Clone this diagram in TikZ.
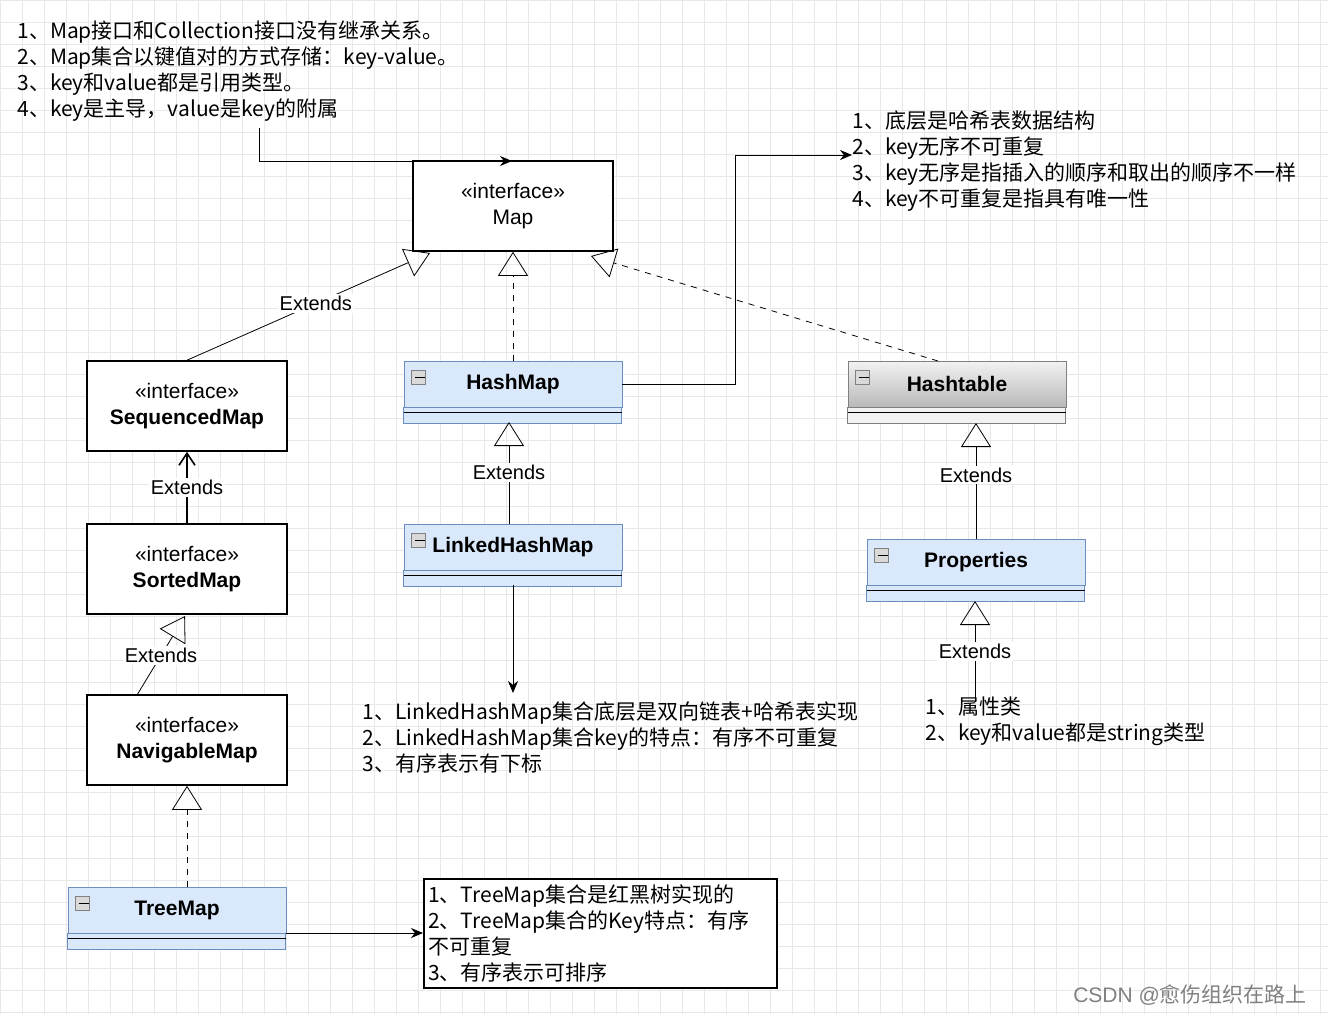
\documentclass[tikz,border=0pt]{standalone}
\usepackage{fontspec}
\setmainfont{Noto Sans CJK SC}
\newfontfamily\lat{Liberation Sans}
\usetikzlibrary{positioning,arrows.meta}
\definecolor{clsfill}{RGB}{218,232,252}
\definecolor{clsdraw}{RGB}{108,142,191}

\begin{document}
\begin{tikzpicture}[x=0.5pt,y=-0.5pt,
	every node/.style={font=\fontsize{10.5}{13}\selectfont},
	iface/.style={draw,thick,fill=white,minimum width=100pt,minimum height=45pt,align=center,font=\lat\fontsize{10.5}{13}\selectfont},
	cls/.style={draw=clsdraw,fill=clsfill,minimum width=109pt,minimum height=23pt,inner sep=0pt,font=\lat\bfseries\fontsize{10.5}{13}\selectfont},
	note/.style={align=left,anchor=north west,inner sep=0pt},
	ext/.style={-{Triangle[open,length=12pt,width=15pt]}},
	dep/.style={-{Stealth[length=6pt,width=5pt]}},
	lbl/.style={fill=white,inner sep=1pt,font=\lat\fontsize{10}{12}\selectfont}
	]
	\useasboundingbox (0,0) rectangle (1328,1014);
	\draw[gray!18,step=11pt] (0,0) grid (1328,1014);
	% interfaces
	\node[iface] (map) at (513,206) {«interface»\\Map};
	\node[iface] (seq) at (187,406) {«interface»\\\textbf{SequencedMap}};
	\node[iface] (sorted) at (187,569) {«interface»\\\textbf{SortedMap}};
	\node[iface] (nav) at (187,740) {«interface»\\\textbf{NavigableMap}};
	% classes
	\foreach \n/\t/\x/\y in {hm/HashMap/513/384, lhm/LinkedHashMap/513/547, prop/Properties/976/562, tm/TreeMap/177/910}{
		\node[cls] (\n) at (\x,\y) {\t};
		\draw[clsdraw,fill=clsfill] (\n.south west) rectangle ++(218,16);
		\draw[thick] ([yshift=-2.5pt]\n.south west) -- ([yshift=-2.5pt]\n.south east);
		\draw[gray,fill=gray!30] ([xshift=4pt,yshift=-5pt]\n.north west) rectangle ++(14,14);
		\draw ([xshift=5.5pt,yshift=-8.5pt]\n.north west) -- ++(10,0);
	}
	\node[cls,draw=gray,top color=gray!10,bottom color=gray!55] (ht) at (957,384) {Hashtable};
	\draw[gray,fill=gray!10] (ht.south west) rectangle ++(218,16);
	\draw[thick] ([yshift=-2.5pt]ht.south west) -- ([yshift=-2.5pt]ht.south east);
	\draw[gray,fill=gray!30] ([xshift=4pt,yshift=-5pt]ht.north west) rectangle ++(14,14);
	\draw ([xshift=5.5pt,yshift=-8.5pt]ht.north west) -- ++(10,0);
	% notes
	\node[note] (n1) at (17,20) {1、Map接口和Collection接口没有继承关系。\\2、Map集合以键值对的方式存储：key-value。\\3、key和value都是引用类型。\\4、key是主导，value是key的附属};
	\node[note] (n2) at (852,110) {1、底层是哈希表数据结构\\2、key无序不可重复\\3、key无序是指插入的顺序和取出的顺序不一样\\4、key不可重复是指具有唯一性};
	\node[note] (n3) at (362,701) {1、LinkedHashMap集合底层是双向链表+哈希表实现\\2、LinkedHashMap集合key的特点：有序不可重复\\3、有序表示有下标};
	\node[note] (n4) at (925,696) {1、属性类\\2、key和value都是string类型};
	\node[draw,thick,fill=white,minimum width=176.5pt,minimum height=54.5pt,anchor=north west,text width=172pt,align=left,inner sep=1pt] (n5) at (423,878) {1、TreeMap集合是红黑树实现的\\2、TreeMap集合的Key特点：有序\\不可重复\\3、有序表示可排序};
	\node[gray,anchor=east] (wm) at (1314,995) {\lat CSDN @\rmfamily 愈伤组织在路上};
	% connectors
	\coordinate (c1) at (259,128);
	\draw[dep] (c1) |- (512,161);
	\draw[ext] (seq.north) -- (430,253) node[lbl,pos=0.53] {Extends};
	\draw[ext,dashed] (hm.north) -- (map.south);
	\draw[ext,dashed] (938,361) -- (591,256);
	\draw[dep] (hm.east) -| (735,155) -- (n2.west |- 155,155);
	\draw[ext] (lhm.north -| 509,0) -- (509,422) node[lbl,pos=0.5] {Extends};
	\draw[dep] (513,585) -- (513,693);
	\draw[ext] (prop.north) -- (976,423) node[lbl,pos=0.55] {Extends};
	\coordinate (c2) at (975,702);
	\draw[ext] (c2) -- (975,601) node[lbl,pos=0.5] {Extends};
	\draw[-{Straight Barb[length=6pt,width=8pt]},thick] (sorted.north) -- (seq.south) node[lbl,pos=0.5] {Extends};
	\draw[ext] (137,695) -- (185,616) node[lbl,pos=0.5] {Extends};
	\draw[ext,dashed] (tm.north -| 187,0) -- (nav.south);
	\draw[dep] (286,933) -- (n5.west |- 286,933);
\end{tikzpicture}
\end{document}
